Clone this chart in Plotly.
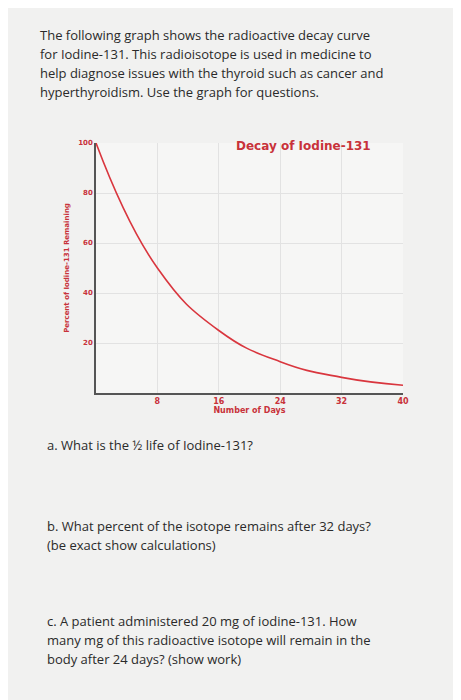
import plotly.graph_objects as go

days = [0, 8, 16, 24, 32, 40]
percent = [100, 50, 25, 12.5, 6.25, 3.125]
x_ticks = [8, 16, 24, 32, 40]
x_labels = ["<b>8</b>", "<b>16</b>", "<b>24</b>", "<b>32</b>", "<b>40</b>"]
y_ticks = [20, 40, 60, 80, 100]
y_labels = ["<b>20</b>", "<b>40</b>", "<b>60</b>", "<b>80</b>", "<b>100</b>"]

intro = ["The following graph shows the radioactive decay curve",
         "for Iodine-131. This radioisotope is used in medicine to",
         "help diagnose issues with the thyroid such as cancer and",
         "hyperthyroidism. Use the graph for questions."]
questions = [(437, "a. What is the ½ life of Iodine-131?"),
             (518, "b. What percent of the isotope remains after 32 days?"),
             (537, "(be exact show calculations)"),
             (613, "c. A patient administered 20 mg of iodine-131. How"),
             (632, "many mg of this radioactive isotope will remain in the"),
             (651, "body after 24 days? (show work)")]

T, B = 135, 385
def py(p):
    return (B - p) / (B - T)

fig = go.Figure()
fig.add_trace(go.Scatter(x=days, y=percent, mode="lines",
                         line=dict(color="#d9363e", width=1.6, shape="spline", smoothing=1.3)))
red = "#c8323a"
fig.update_layout(
    width=461, height=700, showlegend=False,
    margin=dict(l=88, r=66, t=T, b=700 - B),
    paper_bgcolor="#f1f1f0", plot_bgcolor="#f6f6f5",
    xaxis=dict(range=[0, 40], tickvals=x_ticks, ticktext=x_labels, showgrid=True, gridcolor="#e2e2e2",
               showline=True, linecolor="#555", linewidth=1.5, zeroline=False,
               tickfont=dict(family="DejaVu Sans", size=8, color=red),
               title=dict(text="<b>Number of Days</b>", font=dict(family="DejaVu Sans", size=8, color=red), standoff=2)),
    yaxis=dict(range=[0, 100], tickvals=y_ticks, ticktext=y_labels, showgrid=True, gridcolor="#e2e2e2",
               showline=True, linecolor="#555", linewidth=1.5, zeroline=False,
               tickfont=dict(family="DejaVu Sans", size=7, color=red),
               title=dict(text="<b>Percent of Iodine-131 Remaining</b>", font=dict(family="DejaVu Sans", size=7, color=red), standoff=8)),
)
fig.add_annotation(x=1, xref="paper", xanchor="right", xshift=-30, y=py(129), yref="paper",
                   text="<b>Decay of Iodine-131</b>", showarrow=False,
                   font=dict(family="DejaVu Sans", size=12, color=red))
for i, line in enumerate(intro):
    fig.add_annotation(x=(30 - 88) / (395 - 88), xref="paper", xanchor="left",
                       y=py(27 + 19 * i), yref="paper", yanchor="middle",
                       text=line, showarrow=False,
                       font=dict(family="Open Sans", size=13, color="#2a2a2a"))
for yy, line in questions:
    fig.add_annotation(x=(37 - 88) / (395 - 88), xref="paper", xanchor="left",
                       y=py(yy), yref="paper", yanchor="middle",
                       text=line, showarrow=False,
                       font=dict(family="Open Sans", size=13, color="#2a2a2a"))
fig.write_html("out.html")
